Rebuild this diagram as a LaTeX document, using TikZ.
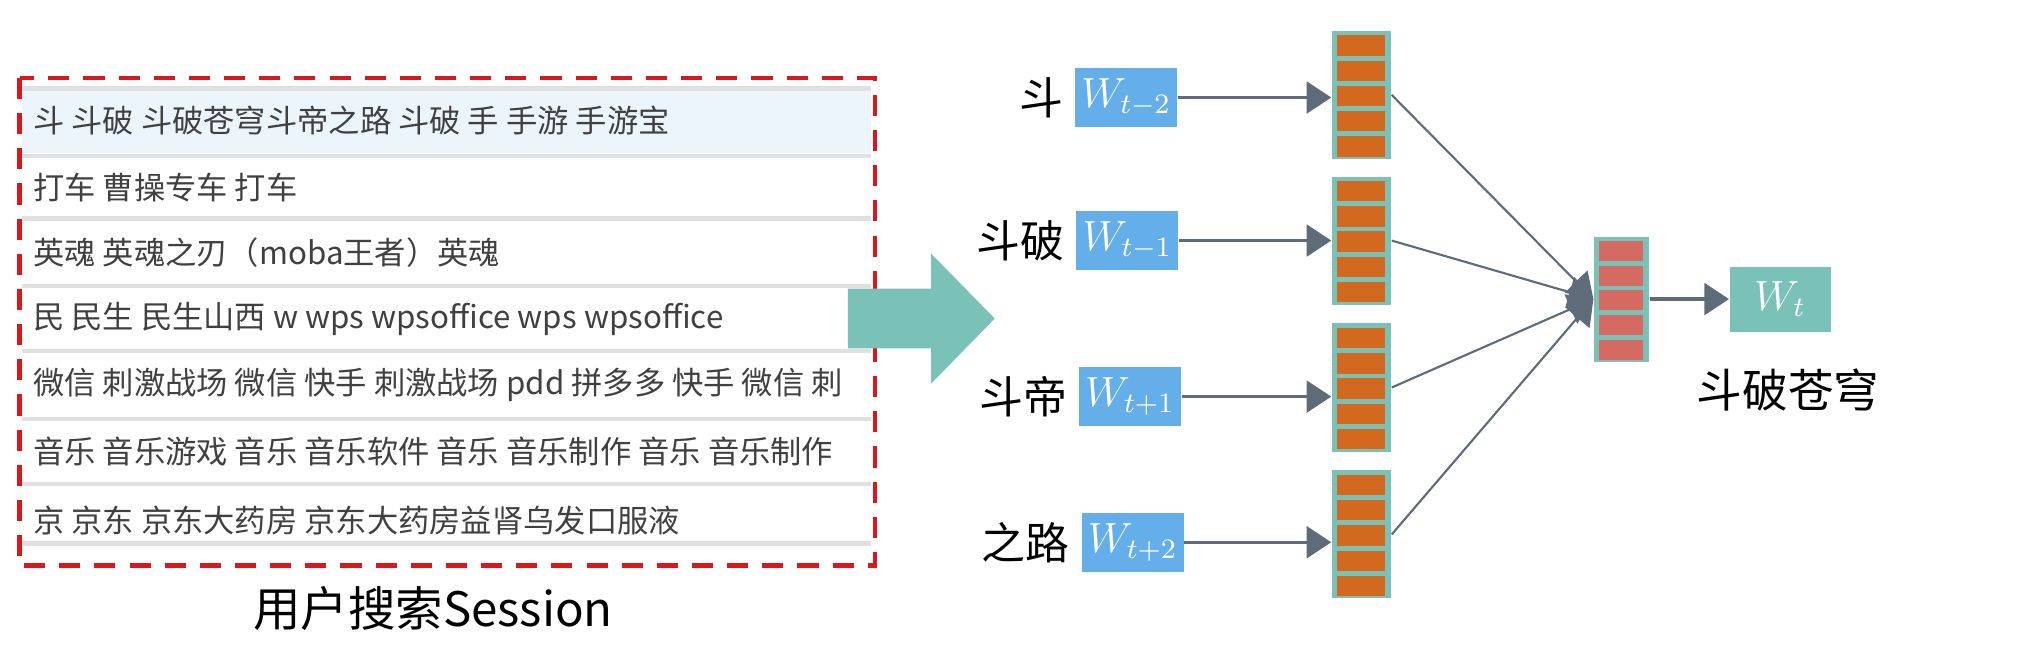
\documentclass[tikz,border=0pt]{standalone}
\usepackage{fontspec}
\setmainfont{Noto Sans CJK SC}
\usepackage{tikz}
\usetikzlibrary{arrows.meta,calc,positioning}
\definecolor{azulW}{RGB}{100,174,234}
\definecolor{naranja}{RGB}{210,105,30}
\definecolor{rojo}{RGB}{212,106,98}
\definecolor{verdeAgua}{RGB}{122,194,184}
\definecolor{grisOscuro}{RGB}{94,107,120}
\definecolor{rojoLinea}{RGB}{215,25,30}
\tikzstyle{wbox}=[rectangle, fill=azulW, text=white, minimum width=1.02cm,
                  minimum height=0.59cm, inner sep=0pt, font=\fontsize{12}{12}\selectfont]
\tikzstyle{word}=[anchor=east, inner sep=1pt, font=\fontsize{12.5}{14}\selectfont]
\tikzstyle{vec}=[rectangle, fill=verdeAgua, minimum width=0.59cm,
                  minimum height=1.28cm, inner sep=0pt]
\tikzstyle{edge}=[grisOscuro, line width=0.6pt]
\tikzstyle{aedge}=[grisOscuro, line width=0.9pt, -{Triangle[length=7pt,width=9pt]}]
\tikzstyle{fila}=[anchor=west, inner sep=0pt, text=black!75, font=\fontsize{8.9}{10}\selectfont]

\begin{document}
\begin{tikzpicture}[x=0.013cm,y=-0.013cm]
    \useasboundingbox (0,0) rectangle (1568,500);

    % session rows
    \begin{scope}
        \clip (17,60) rectangle (670,435);
        \fill[azulW!12] (17,68) rectangle (670,118);
        \foreach \y in {68,120,168,220,270,322,372,418}
            \draw[black!12, line width=1.2pt] (17,\y) -- (670,\y);
        \foreach \y/\t [count=\k] in {93/{斗 斗破 斗破苍穹斗帝之路 斗破 手 手游 手游宝},
                144/{打车 曹操专车 打车},
                194/{英魂 英魂之刃（moba王者）英魂},
                245/{民 民生 民生山西 w wps wpsoffice wps wpsoffice},
                296/{微信 刺激战场 微信 快手 刺激战场 pdd 拼多多 快手 微信 刺},
                347/{音乐 音乐游戏 音乐 音乐软件 音乐 音乐制作 音乐 音乐制作},
                400/{京 京东 京东大药房 京东大药房益肾乌发口服液}}
            \node (r\k) [fila] at (25,\y) {\t};
    \end{scope}
    \draw[rojoLinea, line width=1.3pt, dash pattern=on 6pt off 4pt]
        (15,60) rectangle (673,435);
    \node (cap) at (333,468) {\fontsize{13.5}{15}\selectfont 用户搜索Session};

    % big arrow
    \fill[verdeAgua] (652,222) -- (716,222) -- (716,195) -- (765,245)
        -- (716,295) -- (716,268) -- (652,268) -- cycle;

    % context words
    \node (w1) [wbox] at (866,75) {$W_{t-2}$};
    \node (w2) [wbox] at (867,185) {$W_{t-1}$};
    \node (w3) [wbox] at (869,305) {$W_{t+1}$};
    \node (w4) [wbox] at (871,417) {$W_{t+2}$};
    \node [word, left=2pt of w1] {斗};
    \node [word, left=2pt of w2] {斗破};
    \node [word, left=2pt of w3] {斗帝};
    \node [word, left=2pt of w4] {之路};

    % embedding vectors
    \foreach \i/\y in {1/73,2/185,3/298,4/411} {
        \node (c\i) [vec] at (1047,\y) {};
        \foreach \k in {0,...,4}
            \fill[naranja] ($(c\i.north west)+(4,4+\k*19.4)$) rectangle ++(37,15.6);
        \draw[aedge] (w\i) -- (c\i.west |- w\i);
    }

    % projection
    \node (p) [vec, minimum height=1.25cm, minimum width=0.55cm] at (1247,230) {};
    \foreach \k in {0,...,4}
        \fill[rojo] ($(p.north west)+(4,4+\k*19)$) rectangle ++(34,15.2);
    \foreach \i in {1,...,4}
        \draw[edge, -{Triangle[length=7pt,width=9pt]}] (c\i.east) -- (p.west);

    \node (wt) [wbox, fill=verdeAgua, minimum width=1.01cm, minimum height=0.65cm]
        at (1369,230) {$W_t$};
    \draw[aedge] (p) -- (wt);
    \node (obj) at (1375,300) {\fontsize{13}{15}\selectfont 斗破苍穹};
\end{tikzpicture}
\end{document}
